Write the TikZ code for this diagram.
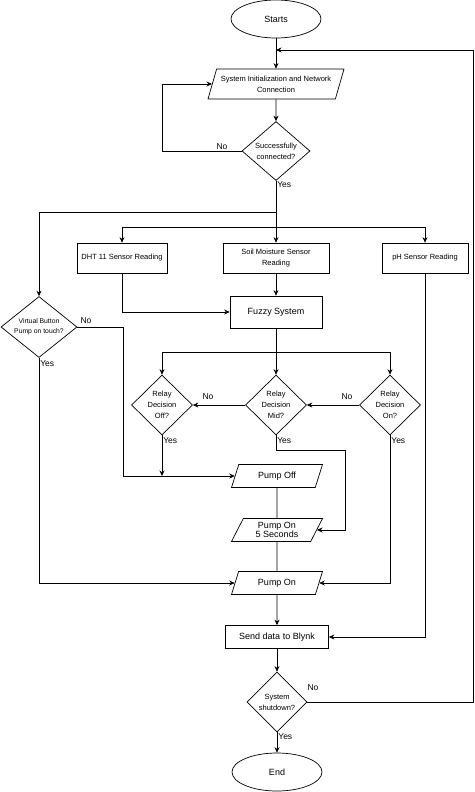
\documentclass[tikz,border=0pt]{standalone}
\usepackage{fontspec}
\setmainfont{Liberation Sans}
\usetikzlibrary{shapes.geometric, arrows.meta}

\begin{document}
\begin{tikzpicture}
    [
        x = 1pt, y = -1pt,
        line width = 0.7pt,
        flow/.style = {-{Stealth[length = 5.5pt, width = 5pt]}},
        terminal/.style = {draw, ellipse, inner sep = 0pt, minimum width = 90pt, minimum height = 38pt, font = \fontsize{9}{11}\selectfont},
        process/.style = {draw, rectangle, inner sep = 1pt, align = center, font = \fontsize{7.5}{11}\selectfont},
        io/.style = {draw, trapezium, trapezium left angle = 55, trapezium right angle = 125, trapezium stretches body, inner sep = 1pt, align = center, minimum width = 91pt, minimum height = 23pt, font = \fontsize{9}{8.5}\selectfont},
        decision/.style = {draw, diamond, inner sep = 0pt, align = center, font = \fontsize{7.5}{11}\selectfont},
        answer/.style = {inner sep = 0pt, font = \fontsize{8.5}{10}\selectfont}
    ]

        \useasboundingbox (0,0) rectangle (474,792);

        \node[terminal] (start) at (276,19) {Starts};
        \node[io, trapezium left angle = 65, trapezium right angle = 115, minimum width = 136pt, minimum height = 30pt, font = \fontsize{7.5}{11}\selectfont] (init) at (276,84)
            {System Initialization and Network\\Connection};
        \node[decision, shape aspect = 1.2, minimum width = 68pt, minimum height = 59pt] (conn) at (276,151)
            {Successfully\\connected?};

        \coordinate (split1) at (276,212);
        \coordinate (split2) at (276,227);
        \coordinate (split3) at (276,352);
        \coordinate (back) at (276,50);

        \node[process, minimum width = 90pt, minimum height = 30pt] (dht) at (122,258) {DHT 11 Sensor Reading};
        \node[process, minimum width = 106pt, minimum height = 30pt] (soil) at (276,258) {Soil Moisture Sensor\\Reading};
        \node[process, minimum width = 86pt, minimum height = 30pt] (ph) at (425,258) {pH Sensor Reading};

        \node[decision, shape aspect = 1.25, minimum width = 76pt, minimum height = 61pt, font = \fontsize{6.8}{10}\selectfont] (button) at (39,327)
            {Virtual Button\\Pump on touch?};
        \node[process, minimum width = 92pt, minimum height = 32pt, font = \fontsize{9}{11}\selectfont] (fuzzy) at (276,312) {Fuzzy System};

        \node[decision, minimum width = 61pt, minimum height = 60pt] (off) at (162,405) {Relay\\Decision\\Off?};
        \node[decision, minimum width = 61pt, minimum height = 60pt] (mid) at (276,405) {Relay\\Decision\\Mid?};
        \node[decision, minimum width = 61pt, minimum height = 60pt] (on) at (390,405) {Relay\\Decision\\On?};

        \node[io] (pumpoff) at (277,476) {Pump Off};
        \node[io] (pumpfive) at (277,530) {Pump On\\5 Seconds};
        \node[io] (pumpon) at (277,583) {Pump On};

        \node[process, minimum width = 103pt, minimum height = 23pt, font = \fontsize{9}{11}\selectfont] (send) at (277,637) {Send data to Blynk};
        \node[decision, minimum width = 60pt, minimum height = 60pt] (shutdown) at (277,702) {System\\shutdown?};
        \node[terminal] (end) at (277,772) {End};

        \draw[flow] (start) -- (init);
        \draw[flow] (init) -- (conn);
        \draw[flow] (conn.west) -- ++(-79,0) |- (init.west);
        \draw (conn.south) -- (split2);
        \draw[flow] (split1) -| (button.north);
        \draw[flow] (split2) -- (soil.north);
        \draw[flow] (split2) -| (dht.north);
        \draw[flow] (split2) -| (ph.north);

        \draw[flow] (dht.south) |- (fuzzy.west);
        \draw[flow] (soil) -- (fuzzy);
        \draw[flow] (ph.south) |- (send.east);

        \draw (fuzzy.south) -- (split3);
        \draw[flow] (split3) -| (off.north);
        \draw[flow] (split3) -- (mid.north);
        \draw[flow] (split3) -| (on.north);

        \draw[flow] (on.west) -- (mid.east);
        \draw[flow] (mid.west) -- (off.east);

        \draw[flow] (button.east) -- ++(46,0) |- (pumpoff.west);
        \draw[flow] (off.south) -- (off.south |- pumpoff.west);
        \draw[flow] (mid.south) |- (345,450) |- (pumpfive.east);
        \draw[flow] (button.south) |- (pumpon.west);
        \draw[flow] (on.south) |- (pumpon.east);

        \draw (pumpoff) -- (pumpfive);
        \draw (pumpfive) -- (pumpon);
        \draw[flow] (pumpon) -- (send);
        \draw[flow] (send) -- (shutdown);
        \draw[flow] (shutdown.east) -| (473,50) -- (back);
        \draw[flow] (shutdown) -- (end);

        \node[answer] at (222,147) {No};
        \node[answer, anchor = west] at (277,185) {Yes};
        \node[answer] at (86,321) {No};
        \node[answer, anchor = west] at (40,364) {Yes};
        \node[answer] at (208,397) {No};
        \node[answer] at (347,397) {No};
        \node[answer, anchor = west] at (163,441) {Yes};
        \node[answer, anchor = west] at (277,441) {Yes};
        \node[answer, anchor = west] at (391,441) {Yes};
        \node[answer] at (313,688) {No};
        \node[answer, anchor = west] at (278,737) {Yes};
    \end{tikzpicture}
\end{document}
